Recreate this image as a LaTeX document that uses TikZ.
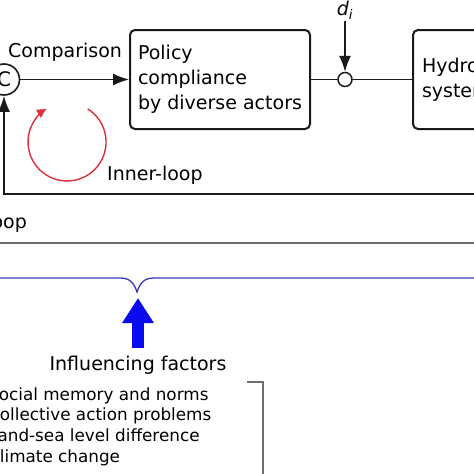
\documentclass[tikz,border=0pt]{standalone}
\usepackage{fontspec}
\setmainfont{DejaVu Sans}
\usepackage{xcolor}
\definecolor{ink}{HTML}{1A1A1A}
\definecolor{loopred}{HTML}{D9303C}
\definecolor{fatblue}{HTML}{0A0AF0}
\definecolor{braceblue}{HTML}{3A3AB8}
\definecolor{frame}{HTML}{6E6E6E}
\usetikzlibrary{positioning,calc,arrows.meta}

\begin{document}
\begin{tikzpicture}[x=1pt,y=-1pt,
  txt/.style={font=\fontsize{19}{24.5}\selectfont,inner sep=0pt},
  listtxt/.style={font=\fontsize{16.8}{20.7}\selectfont,inner sep=0pt},
  block/.style={draw=ink,line width=2pt,rounded corners=5pt,minimum width=180pt,
    minimum height=99pt,align=left,font=\fontsize{19}{25}\selectfont},
  sig/.style={draw=ink,line width=1.5pt},
  arr/.style={sig,-{Latex[length=16pt,width=12pt]}}]
  \useasboundingbox (0,0) rectangle (474,474);
  \clip (0,0) rectangle (474,474);
  % control loop
  \node[draw=ink,circle,line width=1.6pt,minimum size=31pt,inner sep=0pt,
    font=\fontsize{20}{20}\selectfont] (cmp) at (4,79.5) {C};
  \node[txt,anchor=base west] (cmplabel) at (8,57) {Comparison};
  \node[block] (policy) at (220,79.5) {Policy\\compliance\\by diverse actors};
  \node[draw=ink,circle,line width=1.5pt,minimum size=14pt,inner sep=0pt] (sum) at (345,79.5) {};
  \node[txt,inner sep=2pt] (di) at (345,10) {\textit{d}\textsubscript{\textit{i}}};
  \node[block,anchor=west,text width=162pt,inner xsep=9pt] (hydro) at (412,79.5) {Hydrological\\system};
  \coordinate (fbin) at (490,194);
  \draw[arr] (cmp) -- (policy);
  \draw[sig] (policy) -- (sum);
  \draw[sig] (sum) -- (hydro);
  \draw[arr] (di) -- (sum);
  \draw[arr] (fbin) -| (cmp.south);
  % loops
  \draw[loopred,line width=1.4pt,-{Latex[length=10pt,width=10pt]}]
    (87.7,108.9) arc[start angle=58,end angle=-239,radius=39pt];
  \node[txt,anchor=base west] (inner) at (107,180) {Inner-loop};
  \node[txt,anchor=base east] (outer) at (27,228) {Outer-loop};
  % influencing factors
  \draw[frame,line width=1.8pt] (-5,243) -- (480,243);
  \draw[braceblue,line width=1.3pt] (-5,278) -- (120,278)
    .. controls (130,278) and (134,283) .. (137,292)
    .. controls (140,283) and (144,278) .. (154,278) -- (480,278);
  \draw[fatblue,line width=12pt,-{Triangle[length=25pt,width=30pt]}] (138,348) -- (138,298);
  \node[txt,anchor=base] (infl) at (138,370) {Influencing factors};
  \foreach \item [count=\i] in {Social memory and norms,Collective action problems,
      Land-sea level difference,Climate change}
    \node[listtxt,anchor=base west] (fac\i) at (-12,{400+20.7*(\i-1)}) {\item};
  \draw[frame,line width=1.6pt] (247,382) -- (263,382) -- (263,480);
\end{tikzpicture}
\end{document}
